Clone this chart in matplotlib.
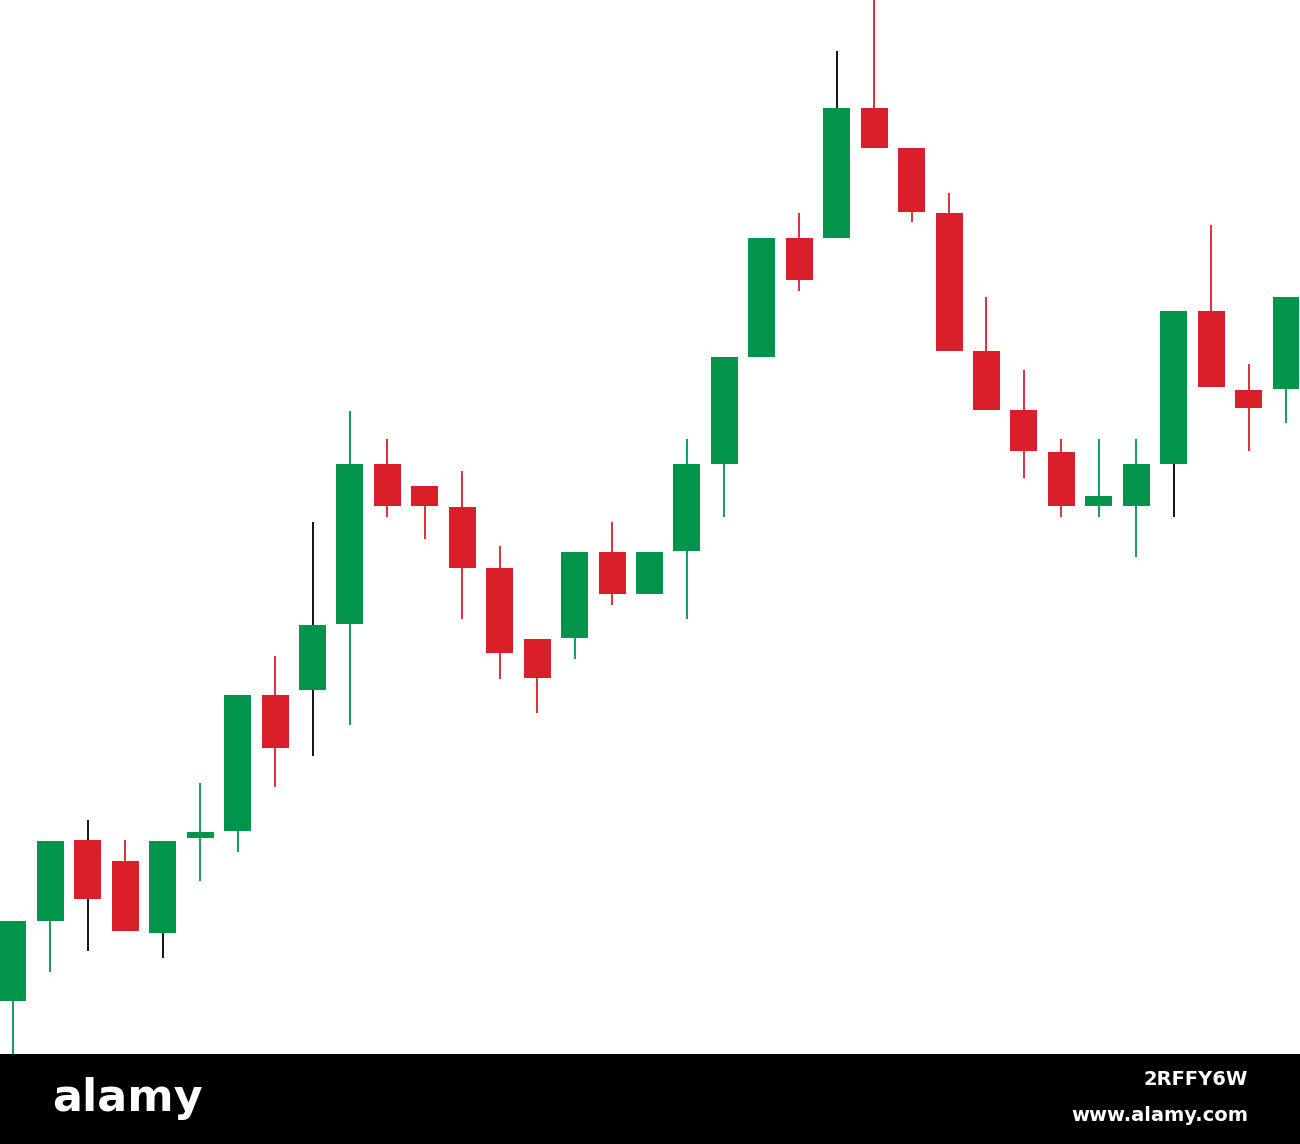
import matplotlib
matplotlib.use("Agg")
import matplotlib.pyplot as plt

# price units (arbitrary)
opens  = [53,133,214,193,121,216,223,359,364,430,590,568,547,486,415,416,502,460,503,590,697,816,816,946,906,841,703,644,602,548,548,590,743,664,665]
closes = [133,213,155,123,213,222,359,306,429,590,548,548,486,401,376,502,460,502,590,697,816,774,946,906,842,703,644,603,548,558,590,743,667,646,757]
highs  = [133,213,234,214,213,271,359,398,532,643,615,568,583,508,415,502,532,502,615,697,816,841,1003,1054,906,861,757,684,615,615,615,743,829,690,757]
lows   = [0,82,103,123,96,173,202,267,298,329,537,515,435,375,341,395,449,460,435,537,697,763,816,906,832,703,644,576,537,537,497,537,667,603,631]
wick_black = [False,False,True,False,True,False,False,False,True,False,False,False,False,False,False,False,False,False,False,False,False,False,True,False,False,False,False,False,False,False,False,True,False,False,False]

GREEN = "#00954a"
RED = "#d9202a"

fig = plt.figure(figsize=(13, 11.44), dpi=100)
ax = fig.add_axes([0, 90/1144, 1, 1054/1144])
for i, (o, c, h, l) in enumerate(zip(opens, closes, highs, lows)):
    col = GREEN if c >= o else RED
    wc = "black" if wick_black[i] else col
    ax.vlines(i, l, h, color=wc, lw=1.3, zorder=1)
    lo, hi = min(o, c), max(o, c)
    ax.bar(i, max(hi - lo, 6), bottom=lo, width=0.72, color=col, zorder=2)
ax.set_xlim(-0.347, 34.374)
ax.set_ylim(0, 1054)
ax.axis("off")

band = fig.add_axes([0, 0, 1, 90/1144])
band.set_facecolor("black")
band.set_xticks([]); band.set_yticks([])
for s in band.spines.values():
    s.set_visible(False)
band.text(0.04, 0.5, "alamy", color="white", fontsize=32, fontweight="bold", va="center", ha="left", transform=band.transAxes)
band.text(0.96, 0.72, "2RFFY6W", color="white", fontsize=14, fontweight="bold", va="center", ha="right", transform=band.transAxes)
band.text(0.96, 0.32, "www.alamy.com", color="white", fontsize=14, fontweight="bold", va="center", ha="right", transform=band.transAxes)

fig.savefig("out.png", dpi=100)
